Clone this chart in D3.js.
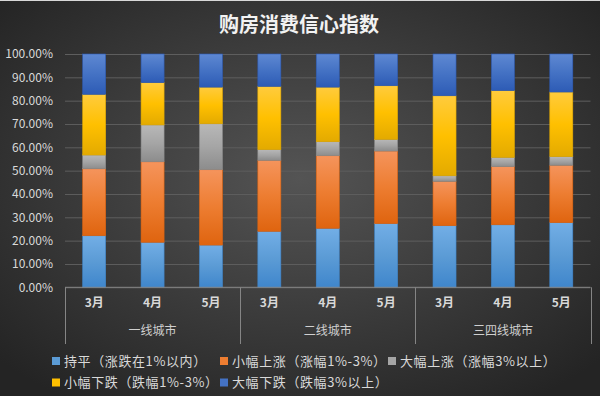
<!DOCTYPE html>
<html><head><meta charset="utf-8">
<script src="https://cdn.jsdelivr.net/npm/d3@7"></script>
<style>body{margin:0;background:#333}svg{display:block}</style>
</head><body><svg id="c" width="600" height="396"></svg>
<script>
const title = "购房消费信心指数";
const groups = ["一线城市", "二线城市", "三四线城市"];
const months = ["3月", "4月", "5月"];
const seriesNames = ["持平（涨跌在1%以内）", "小幅上涨（涨幅1%-3%）", "大幅上涨（涨幅3%以上）", "小幅下跌（跌幅1%-3%）", "大幅下跌（跌幅3%以上）"];
const flat      = [22.1, 19.3, 18.1, 24.0, 25.3, 27.3, 26.4, 26.8, 27.7];
const smallUp   = [28.7, 34.5, 32.3, 30.4, 31.1, 31.1, 19.0, 24.9, 24.6];
const bigUp     = [5.9, 15.8, 19.7, 4.6, 6.0, 5.0, 2.4, 4.0, 3.7];
const smallDown = [26.0, 18.1, 15.7, 27.1, 23.4, 23.0, 34.3, 28.6, 27.7];
const bigDown   = [17.3, 12.3, 14.2, 13.9, 14.2, 13.6, 17.9, 15.7, 16.3];
const yTicks = [0, 10, 20, 30, 40, 50, 60, 70, 80, 90, 100];

const seriesValues = [flat, smallUp, bigUp, smallDown, bigDown];
const legendColors = ["#5b9bd5", "#ed7d31", "#a5a5a5", "#ffc000", "#4472c4"];
const gradStops = [
  ["#72aee6", "#5b9bd5", "#3f86cc"],
  ["#f5945c", "#ed7d31", "#df640f"],
  ["#b8b8b8", "#a5a5a5", "#8c8c8c"],
  ["#ffcb3d", "#ffc000", "#e3aa00"],
  ["#5e88d2", "#4472c4", "#2d5bb5"]
];

(function () {
const svg = d3.select("#c");
const W = 600, H = 396;
const defs = svg.append("defs");
const bg = defs.append("radialGradient").attr("id", "bg").attr("cx", "50%").attr("cy", "45%").attr("r", "68%");
bg.append("stop").attr("offset", "0%").attr("stop-color", "#545454");
bg.append("stop").attr("offset", "100%").attr("stop-color", "#242424");
gradStops.forEach((s, i) => {
  const g = defs.append("linearGradient").attr("id", "g" + i).attr("x1", 0).attr("y1", 0).attr("x2", 0).attr("y2", 1);
  g.append("stop").attr("offset", "0%").attr("stop-color", s[0]);
  g.append("stop").attr("offset", "50%").attr("stop-color", s[1]);
  g.append("stop").attr("offset", "100%").attr("stop-color", s[2]);
});
svg.append("rect").attr("width", W).attr("height", H).attr("fill", "url(#bg)");
svg.append("line").attr("x1", 0).attr("x2", W).attr("y1", 0.5).attr("y2", 0.5).attr("stroke", "#d8d8d8").attr("stroke-width", 1);

const pl = 65, pr = 590.5, pt = 54, pb = 287.3;
const idx = d3.range(flat.length);
const x = d3.scaleBand().domain(idx).range([pl, pr]).paddingInner(0.606).paddingOuter(0.303);
const y = d3.scaleLinear().domain([0, 100]).range([pb, pt]);
const gx = d3.scaleBand().domain(groups).range([pl, pr]);

const font = "'Noto Sans CJK SC','Noto Sans',sans-serif";

// gridlines
const grid = svg.append("g").attr("transform", `translate(${pl},0)`)
  .call(d3.axisLeft(y).tickValues(yTicks).tickSize(-(pr - pl)).tickFormat(""));
grid.select(".domain").remove();
grid.selectAll("line").attr("stroke", "#5e5e5e").attr("stroke-width", 1);

// y axis labels
const ya = svg.append("g").attr("transform", `translate(${pl},0)`)
  .call(d3.axisLeft(y).tickValues(yTicks).tickSize(0).tickPadding(12).tickFormat(d => d.toFixed(2) + "%"));
ya.select(".domain").remove();
ya.selectAll("text").attr("fill", "#d9d9d9").style("font-family", font).style("font-size", "12px");

// stacked bars
const table = idx.map(i => {
  const o = { i };
  seriesNames.forEach((n, k) => o[n] = seriesValues[k][i]);
  return o;
});
const stack = d3.stack().keys(seriesNames)(table);
svg.append("g").selectAll("g").data(stack).join("g")
  .attr("fill", (d, k) => `url(#g${k})`)
  .attr("stroke", (d, k) => gradStops[k][2])
  .attr("stroke-width", 0.6)
  .selectAll("rect").data(d => d).join("rect")
  .attr("x", d => x(d.data.i))
  .attr("width", x.bandwidth())
  .attr("y", d => y(d[1]))
  .attr("height", d => y(d[0]) - y(d[1]));

// category axis
const axisCol = "#858585";
svg.append("line").attr("x1", pl).attr("x2", pr).attr("y1", pb).attr("y2", pb).attr("stroke", axisCol);
const seps = groups.map(g => gx(g)).concat([pr]);
svg.append("g").selectAll("line").data(seps).join("line")
  .attr("x1", d => Math.round(d) + 0.5).attr("x2", d => Math.round(d) + 0.5)
  .attr("y1", pb).attr("y2", 344).attr("stroke", axisCol);

const xa = svg.append("g").attr("transform", `translate(0,${pb})`)
  .call(d3.axisBottom(x).tickSize(0).tickPadding(11).tickFormat(i => months[i % months.length]));
xa.select(".domain").remove();
xa.selectAll("text").attr("fill", "#d9d9d9").style("font-family", font).style("font-size", "12px").style("font-weight", "bold");

const ga = svg.append("g").attr("transform", `translate(0,${pb})`)
  .call(d3.axisBottom(gx).tickSize(0).tickPadding(39));
ga.select(".domain").remove();
ga.selectAll("text").attr("fill", "#d0d0d0").style("font-family", font).style("font-size", "12px");

// title
svg.append("text").attr("x", 299).attr("y", 32).attr("text-anchor", "middle")
  .attr("fill", "#f2f2f2").style("font-family", font).style("font-size", "20px").style("font-weight", "bold")
  .text(title);

// legend
const lg = svg.append("g").selectAll("g").data(seriesNames).join("g")
  .attr("transform", (d, k) => `translate(${52 + (k % 3) * 168},${361 + Math.floor(k / 3) * 21.5})`);
lg.append("rect").attr("x", 0).attr("y", -4).attr("width", 8).attr("height", 8)
  .attr("fill", (d, k) => legendColors[k]);
lg.append("text").attr("x", 12).attr("y", 0).attr("dy", "0.36em")
  .attr("fill", "#d9d9d9").style("font-family", font).style("font-size", "13px")
  .style("letter-spacing", "0.6px")
  .text(d => d);
})();
</script></body></html>
